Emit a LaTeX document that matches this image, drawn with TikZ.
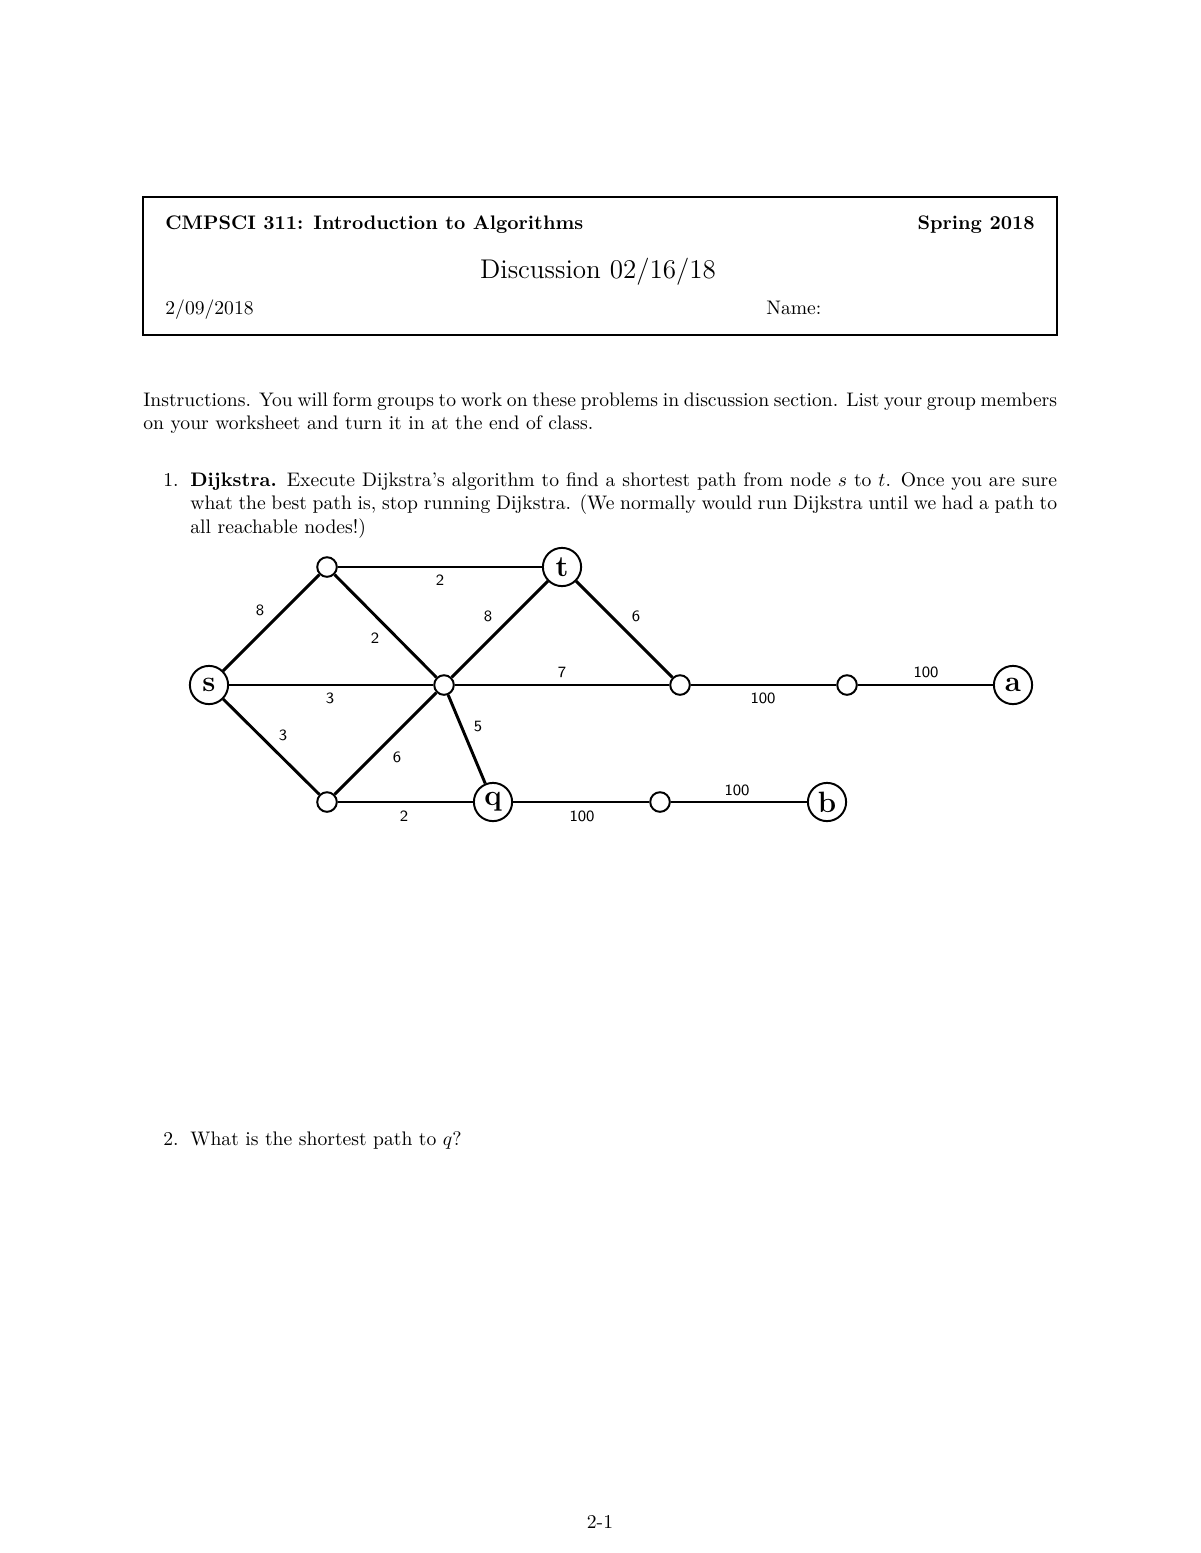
\documentclass[tikz,border=0pt]{standalone}
\usepackage{amsmath}
\usetikzlibrary{positioning}
\tikzset{
  bignode/.style={circle, draw, line width=1pt, minimum size=19.5pt, inner sep=0pt, font=\fontsize{15}{18}\selectfont\bfseries},
  smallnode/.style={circle, draw, line width=1pt, minimum size=10pt, inner sep=0pt},
  wt/.style={font=\sffamily\fontsize{8}{9}\selectfont, inner sep=0pt},
  txt/.style={inner sep=0pt, anchor=base west}
}

\begin{document}
\begin{tikzpicture}[x=0.51pt, y=-0.51pt]
\useasboundingbox[fill=white] (0,0) rectangle (1200,1553);

% header box
\draw[line width=0.8pt] (143,197) rectangle (1057,335);
\node[txt] (course) at (165,230) {\bfseries CMPSCI 311: Introduction to Algorithms};
\node[inner sep=0pt, anchor=base east] (term) at (1035,230) {\bfseries Spring 2018};
\node[inner sep=0pt, anchor=base] (title) at (598,278) {\fontsize{13.8}{16}\selectfont Discussion 02/16/18};
\node[txt] (date) at (165,314) {2/09/2018};
\node[txt] (name) at (766,314) {Name:};

% instructions
\node[txt, text width=466pt, align=justify] (instr) at (143,406)
  {\baselineskip=11.3pt Instructions. You will form groups to work on these problems in discussion section. List your group members\linebreak on your worksheet and turn it in at the end of class.};

\node[txt] (one) at (163,486) {1.};
\node[txt, text width=442pt, align=justify] (q1) at (190,486)
  {\baselineskip=11.7pt \textbf{Dijkstra.} Execute Dijkstra's algorithm to find a shortest path from node $s$ to $t$. Once you are sure\linebreak what the best path is, stop running Dijkstra. (We normally would run Dijkstra until we had a path to\linebreak all reachable nodes!)};

% graph
\node[bignode] (s) at (209,685) {s};
\node[bignode] (t) at (562,567) {t};
\node[bignode] (q) at (493,802) {q};
\node[bignode] (a) at (1013,685) {a};
\node[bignode] (b) at (827,802) {b};
\node[smallnode] (v1) at (327,567) {};
\node[smallnode] (v2) at (444,685) {};
\node[smallnode] (v3) at (680,685) {};
\node[smallnode] (v4) at (847,685) {};
\node[smallnode] (v5) at (327,802) {};
\node[smallnode] (v6) at (660,802) {};

\begin{scope}[line width=1.5pt]
\draw (s) -- (v1) node[wt, at={(260,610)}] {8};
\draw (v1) -- (t) node[wt, at={(440,580)}] {2};
\draw (v1) -- (v2) node[wt, at={(375,638)}] {2};
\draw (v2) -- (t) node[wt, at={(488,616)}] {8};
\draw (t) -- (v3) node[wt, at={(636,616)}] {6};
\draw (s) -- (v2) node[wt, at={(330,698)}] {3};
\draw (v2) -- (v3) node[wt, at={(562,672)}] {7};
\draw (v3) -- (v4) node[wt, at={(763,698)}] {100};
\draw (v4) -- (a) node[wt, at={(926,672)}] {100};
\draw (s) -- (v5) node[wt, at={(283,735)}] {3};
\draw (v5) -- (v2) node[wt, at={(397,757)}] {6};
\draw (v2) -- (q) node[wt, at={(478,727)}] {5};
\draw (v5) -- (q) node[wt, at={(404,816)}] {2};
\draw (q) -- (v6) node[wt, at={(582,816)}] {100};
\draw (v6) -- (b) node[wt, at={(737,790)}] {100};
\end{scope}

\node[txt] (two) at (163,1145) {2.};
\node[txt] (q2) at (190,1145) {What is the shortest path to $q$?};

\node[inner sep=0pt, anchor=base] (page) at (600,1528) {2-1};
\end{tikzpicture}
\end{document}
